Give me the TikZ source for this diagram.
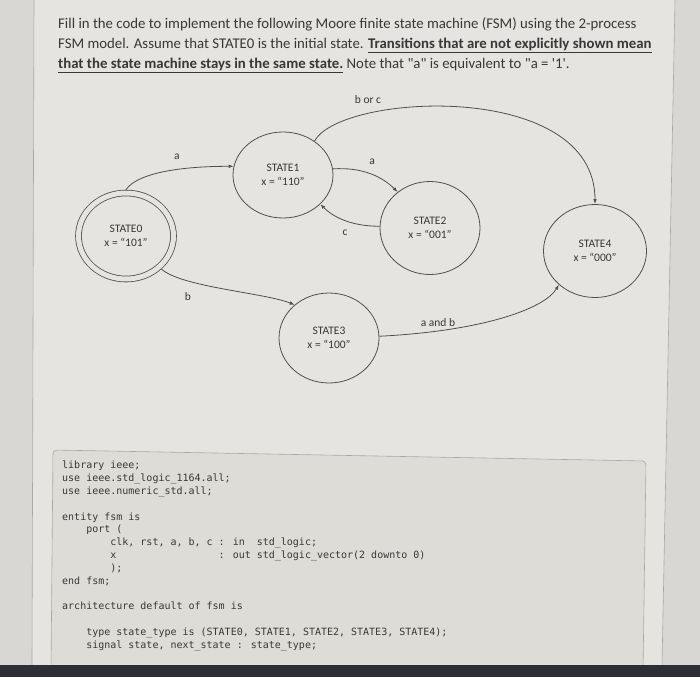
\documentclass[tikz,border=0pt]{standalone}
\usepackage{fontspec}
\setmainfont{Carlito}
\newfontfamily\codefont{DejaVu Sans Mono}
\usepackage{tikz}
\usepackage{xcolor}
\usetikzlibrary{shapes.geometric, arrows.meta, positioning, calc}
\definecolor{Photo_Bg}{HTML}{D9D7D3}
\definecolor{Photo_Page}{HTML}{E6E4E0}
\definecolor{Code_Box}{HTML}{DEDCD7}
\definecolor{Code_Rule}{HTML}{ABA9A5}
\definecolor{Ink_Text}{HTML}{383838}
\definecolor{Ink_Line}{HTML}{505050}
\definecolor{Screen_Edge}{HTML}{2C3036}

\begin{document}
\begin{tikzpicture}[x=1pt, y=-1pt,
  fsmstate/.style={ellipse, draw=Ink_Line, line width=0.8pt, inner sep=0pt,
    minimum width=100pt, minimum height=88pt, align=center, text=Ink_Text,
    font=\fontsize{11.5}{14}\selectfont},
  edgelbl/.style={text=Ink_Text, font=\fontsize{11.5}{12}\selectfont, inner sep=0pt},
  fsmedge/.style={draw=Ink_Line, line width=0.8pt, -{Latex[length=5pt, width=3.6pt]}}]
\useasboundingbox (0,0) rectangle (700,677);
% --- Photo background and page ---
\fill[Photo_Bg] (0,0) rectangle (700,677);
\fill[Photo_Page] (34,0) -- (675,0) -- (662,665) -- (32,665) -- cycle;
\draw[Code_Rule, line width=0.6pt] (34,0) -- (32,665);
\draw[Code_Rule, line width=0.6pt] (675,0) -- (662,665);
% --- Question text ---
\node[anchor=north west, align=left, inner sep=0pt, text=Ink_Text,
  font=\fontsize{14.8}{20}\selectfont] (prompt) at (58,17)
  {Fill in the code to implement the following Moore finite state machine (FSM) using the 2-process\\
   FSM model. Assume that STATE0 is the initial state. \underline{\textbf{Transitions that are not explicitly shown mean}}\\
   \underline{\textbf{that the state machine stays in the same state.}} Note that \textquotedbl a\textquotedbl{} is equivalent to \textquotedbl a = \textquotesingle 1\textquotesingle.};
% --- States ---
\node[fsmstate, double=Photo_Page, double distance=5pt, minimum width=95pt,
  minimum height=86pt, outer sep=3.3pt] (s0) at (126,236) {STATE0\\x = ``101''};
\node[fsmstate, minimum height=86pt] (s1) at (283,175) {STATE1\\x = ``110''};
\node[fsmstate, minimum height=93pt] (s2) at (430,228) {STATE2\\x = ``001''};
\node[fsmstate, minimum height=90pt] (s3) at (329,338) {STATE3\\x = ``100''};
\node[fsmstate, minimum width=103pt, minimum height=93pt] (s4) at (595,251) {STATE4\\x = ``000''};
% --- Transitions ---
\draw[fsmedge] (s0.north) .. controls +(10,-15) and +(-60,0) .. (s1.170);
\draw[fsmedge] (s1.7) .. controls +(30,-2) and +(-15,-15) .. (s2.132);
\draw[fsmedge] (s2.178) .. controls +(-30,0) and +(12,12) .. (s1.322);
\draw[fsmedge] (s1.47) .. controls +(25,-48) and +(0,-125) .. (s4.north);
\draw[fsmedge] (s0.317) .. controls +(20,18) and +(-30,-12) .. (s3.136);
\draw[fsmedge] (s3.2) .. controls +(100,-5) and +(-15,25) .. (s4.223);
% Labels
\node[edgelbl] (lblS0S1) at (177,157) {a};
\node[edgelbl] (lblS1S2) at (372,162) {a};
\node[edgelbl] (lblS2S1) at (345,233) {c};
\node[edgelbl] (lblS1S4) at (368,100) {b or c};
\node[edgelbl] (lblS0S3) at (188,297) {b};
\node[edgelbl] (lblS3S4) at (438,323) {a and b};
% --- Code box ---
\filldraw[fill=Code_Box, draw=Code_Rule, line width=0.6pt, rounded corners=4pt]
  (53,450) -- (646,461) -- (643,672) -- (51,672) -- cycle;
\node[anchor=north west, align=left, inner sep=0pt, text=Ink_Text,
  font=\codefont\fontsize{10}{12.8}\selectfont] (vhdl) at (62,461)
  {library ieee;\\
   use ieee.std\_logic\_1164.all;\\
   use ieee.numeric\_std.all;\\[12.8pt]
   entity fsm is\\
   ~~~~port (\\
   ~~~~~~~~clk, rst, a, b, c : in~~std\_logic;\\
   ~~~~~~~~x~~~~~~~~~~~~~~~~~: out std\_logic\_vector(2 downto 0)\\
   ~~~~~~~~);\\
   end fsm;\\[12.8pt]
   architecture default of fsm is\\[12.8pt]
   ~~~~type state\_type is (STATE0, STATE1, STATE2, STATE3, STATE4);\\
   ~~~~signal state, next\_state : state\_type;};
% --- Screen edge ---
\fill[Screen_Edge] (0,665) rectangle (700,677);
\end{tikzpicture}
\end{document}
